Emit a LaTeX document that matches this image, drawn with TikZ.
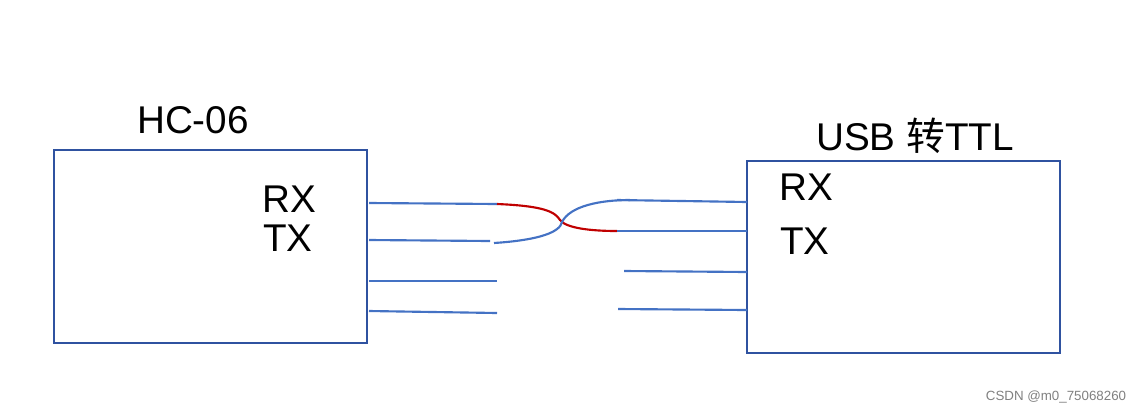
\documentclass[tikz,border=0pt]{standalone}
\usepackage{fontspec}
\setmainfont{Liberation Sans}
\newfontfamily\cjk{Noto Sans CJK SC}
\begin{document}
\begin{tikzpicture}[x=0.75pt,y=-0.75pt,
  box/.style={draw=blue!50!black!80!cyan,line width=2pt},
  wire/.style={draw=blue!60!cyan!70!black,line width=1.6pt},
  rwire/.style={draw=red!80!black,line width=1.6pt},
  lbl/.style={font=\fontsize{29}{30}\selectfont,inner sep=0pt}]
\useasboundingbox (0,0) rectangle (1141,415);
\draw[box,draw={rgb,255:red,47;green,82;blue,160}] (54,150) rectangle (367,343);
\draw[box,draw={rgb,255:red,47;green,82;blue,160}] (747,161) rectangle (1060,353);
\node[lbl] (hc) at (193,120) {HC-06};
\node[lbl] (usb) at (915,136) {USB {\cjk 转}TTL};
\node[lbl] (rx1) at (289,199) {RX};
\node[lbl] (tx1) at (288,238) {TX};
\node[lbl] (rx2) at (806,187) {RX};
\node[lbl] (tx2) at (805,241) {TX};
\tikzset{wire/.style={draw={rgb,255:red,68;green,114;blue,196},line width=1.6pt},
 rwire/.style={draw={rgb,255:red,192;green,0;blue,0},line width=1.6pt}}
\coordinate (a1) at (369,203); \coordinate (a2) at (497,204);
\coordinate (b1) at (617,231); \coordinate (b2) at (747,231);
\draw[wire] (a1) -- (a2);
\draw[rwire] (a2) .. controls (545,206) and (555,212) .. (560,220) .. controls (566,228) and (590,231) .. (b1);
\draw[wire] (b1) -- (b2);
\coordinate (c1) at (369,240); \coordinate (c2) at (490,241);
\coordinate (c3) at (494,243); \coordinate (d1) at (630,200); \coordinate (d2) at (747,202);
\draw[wire] (c1) -- (c2);
\draw[wire] (c3) .. controls (540,240) and (560,232) .. (562,222) .. controls (570,206) and (600,200) .. (d1);
\draw[wire] (617,200) -- (d2);
\draw[wire] (369,281) -- (497,281);
\draw[wire] (369,311) -- (497,313);
\draw[wire] (624,271) -- (747,272);
\draw[wire] (618,309) -- (747,310);
\node[font=\fontsize{10}{11}\selectfont,text=gray,inner sep=0pt] (wm) at (1056,397) {CSDN @m0\_75068260};
\end{tikzpicture}
\end{document}
